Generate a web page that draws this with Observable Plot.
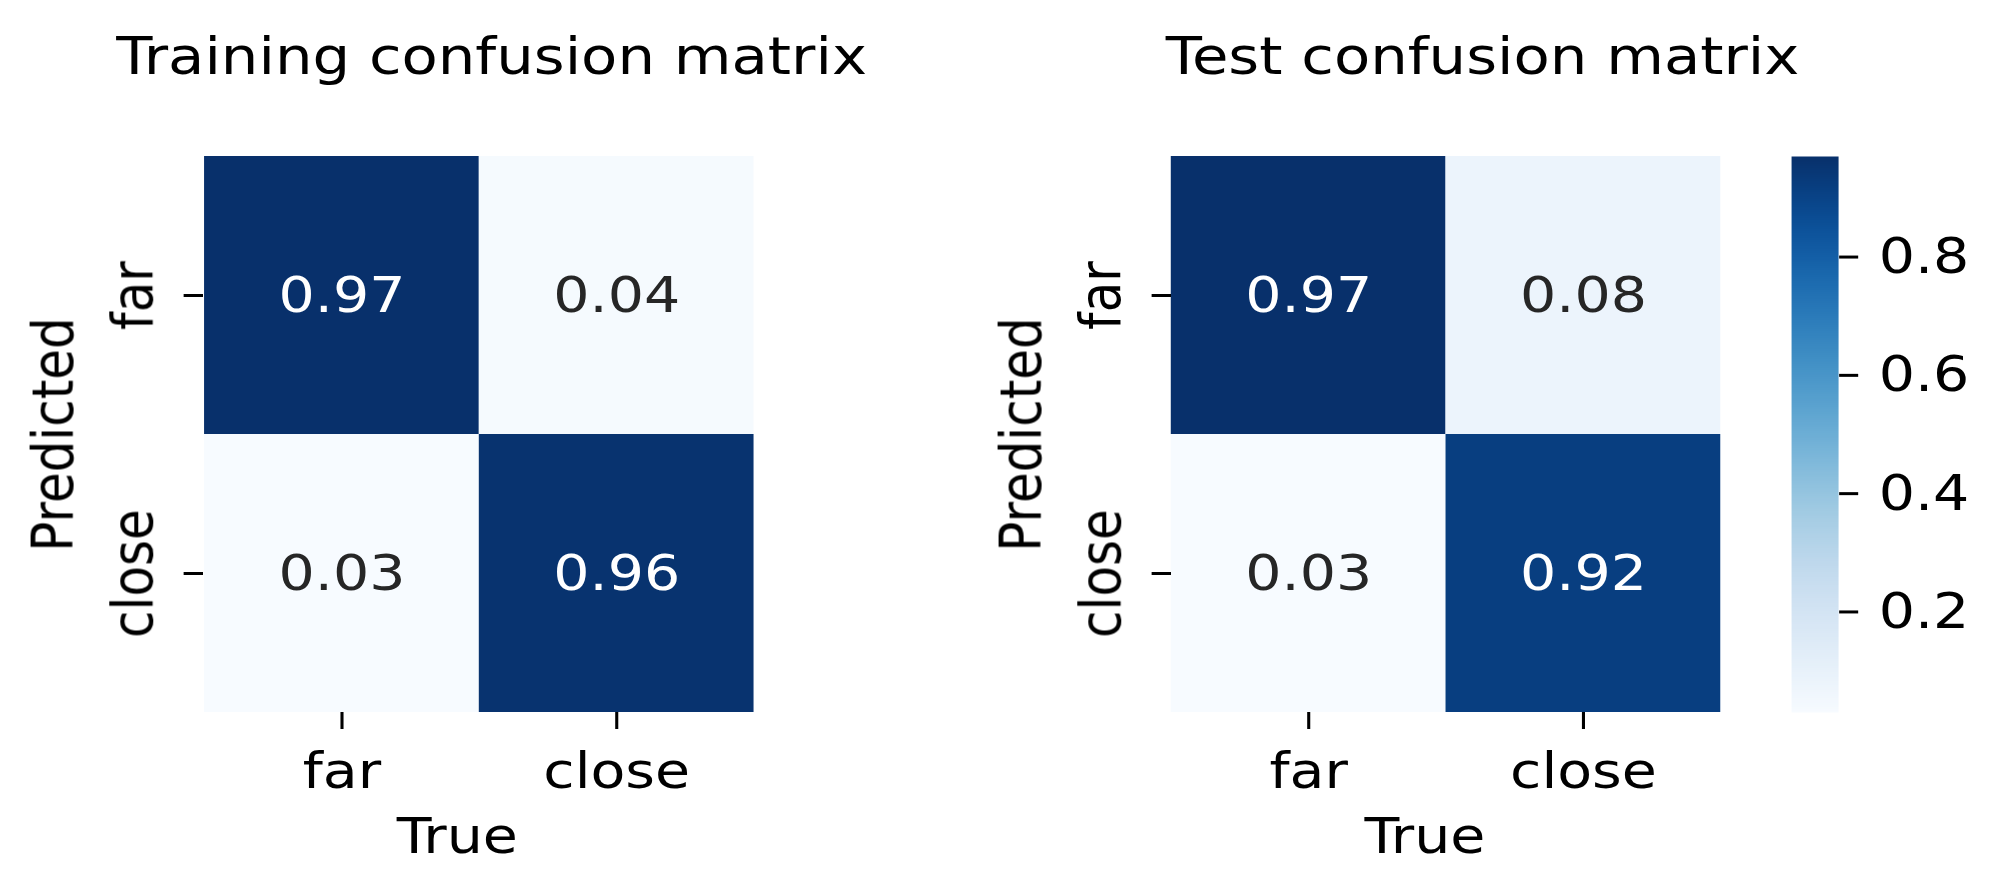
<!DOCTYPE html>
<html>
<head>
<meta charset="utf-8">
<script src="https://cdn.jsdelivr.net/npm/d3@7"></script>
<script src="https://cdn.jsdelivr.net/npm/@observablehq/plot@0.6"></script>
<style>
  html, body { margin: 0; padding: 0; background: #fff; }
  #fig {
    position: relative; width: 1748px; height: 881px;
    transform: scaleX(1.14); transform-origin: 0 0;
    font-family: "DejaVu Sans", sans-serif;
  }
  #fig svg { position: absolute; top: 0; overflow: visible; background: transparent; max-width: none; }
</style>
</head>
<body>
<div id="fig"></div>
<script>
// ---- data ----
const trueLabels = ["far", "close"];          // columns (x)
const predLabels = ["far", "close"];          // rows (y)
const titles = ["Training confusion matrix", "Test confusion matrix"];
const trainValues = [[0.97, 0.04], [0.03, 0.96]];  // [predicted][true]
const testValues  = [[0.97, 0.08], [0.03, 0.92]];
const colorbarTicks = [0.2, 0.4, 0.6, 0.8];

// ---- layout (logical px; container is stretched 1.14x horizontally) ----
const H = 881, TOP = 156, BOTTOM = 712, FS = 50, TFS = 52;
const FONT = "DejaVu Sans, sans-serif";

function heatmap(values, title, o) {
  const cells = [];
  predLabels.forEach((p, i) => trueLabels.forEach((t, j) => cells.push({pred: p, truth: t, value: values[i][j]})));
  const [lo, hi] = d3.extent(cells, d => d.value);
  const mid = (lo + hi) / 2;
  return Plot.plot({
    width: o.width, height: H,
    marginLeft: o.ml, marginRight: o.mr, marginTop: TOP, marginBottom: H - BOTTOM,
    style: {background: "transparent", overflow: "visible", fontFamily: FONT, color: "#000"},
    x: {type: "band", domain: trueLabels, padding: 0},
    y: {type: "band", domain: predLabels, padding: 0},
    color: {type: "linear", scheme: "blues", domain: [lo, hi]},
    marks: [
      Plot.cell(cells, {x: "truth", y: "pred", fill: "value"}),
      Plot.text(cells.filter(d => d.value > mid), {x: "truth", y: "pred", text: d => d.value.toFixed(2), fill: "white", fontSize: FS}),
      Plot.text(cells.filter(d => d.value <= mid), {x: "truth", y: "pred", text: d => d.value.toFixed(2), fill: "#262626", fontSize: FS}),
      Plot.axisX({anchor: "bottom", tickSize: 17, tickPadding: 22.5, fontSize: FS, label: null, strokeWidth: 2.7, fill: "#000"}),
      Plot.axisY({anchor: "left", tickSize: 17, tickFormat: () => "", label: null, strokeWidth: 3}),
      Plot.text(predLabels, {y: d => d, text: d => d, frameAnchor: "left", dx: -45, rotate: -90,
        textAnchor: "middle", lineAnchor: "bottom", fontSize: FS, fill: "#000"}),
      Plot.text(["Predicted"], {text: d => d, frameAnchor: "left", dx: -114.9, rotate: -90,
        textAnchor: "middle", lineAnchor: "bottom", fontSize: FS, fill: "#000"}),
      Plot.text(["True"], {text: d => d, frameAnchor: "bottom", dx: -19, dy: 140,
        lineAnchor: "bottom", fontSize: FS, fill: "#000"}),
      Plot.text([title], {text: d => d, frameAnchor: "top", dx: o.titleDx, dy: -83,
        lineAnchor: "bottom", fontSize: TFS, fill: "#000"})
    ]
  });
}

function colorbar(values) {
  const [lo, hi] = d3.extent(values.flat());
  return Plot.plot({
    width: 208, height: H,
    marginLeft: 31.05, marginRight: 135.72, marginTop: TOP, marginBottom: H - BOTTOM,
    style: {background: "transparent", overflow: "visible", fontFamily: FONT, color: "#000"},
    x: {domain: [0, 1], axis: null},
    y: {domain: [lo, hi]},
    color: {type: "linear", scheme: "blues", domain: [lo, hi]},
    marks: [
      Plot.raster({x1: 0, x2: 1, y1: lo, y2: hi, width: 1, height: 256, fill: (x, y) => y}),
      Plot.axisY({anchor: "right", ticks: colorbarTicks, tickFormat: d => d.toFixed(1), tickSize: 16.7,
        tickPadding: 18.5, fontSize: FS, label: null, strokeWidth: 3, fill: "#000"})
    ]
  });
}

const fig = document.getElementById("fig");
const left = heatmap(trainValues, titles[0], {width: 874, ml: 178.07, mr: 212.6, titleDx: 11});
left.style.left = "0px";
const right = heatmap(testValues, titles[1], {width: 666, ml: 153.19, mr: 30.35, titleDx: 31.6});
right.style.left = "874px";
const cb = colorbar(testValues);
cb.style.left = "1540px";
fig.append(left, right, cb);
</script>
</body>
</html>
